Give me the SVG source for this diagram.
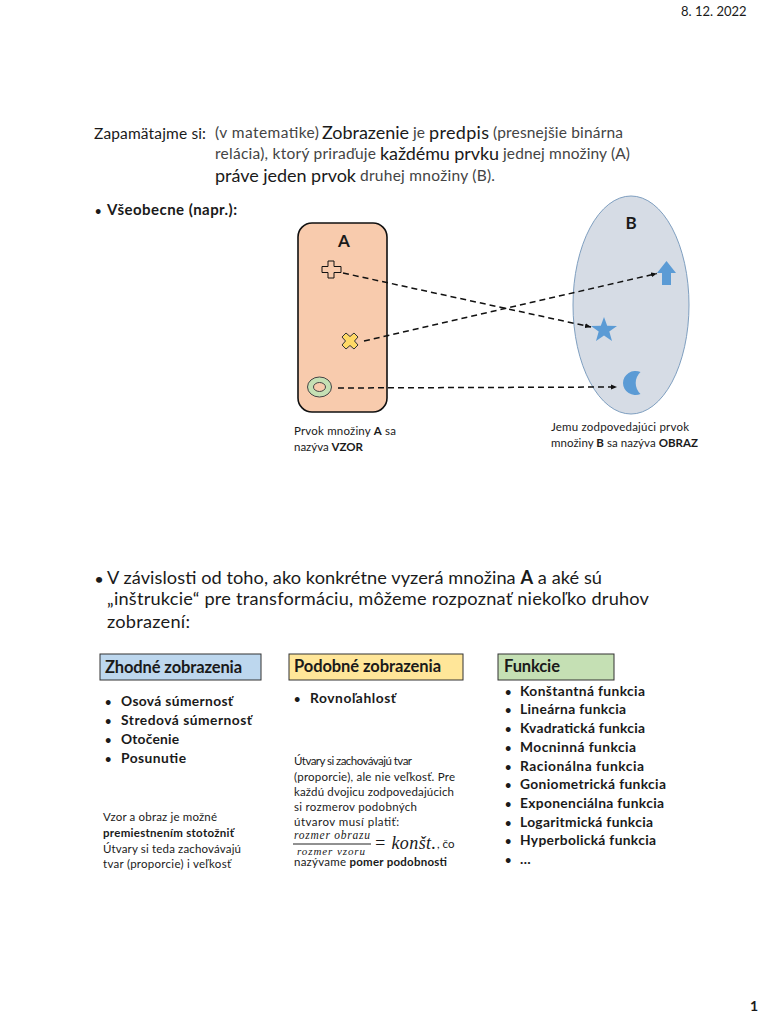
<svg xmlns="http://www.w3.org/2000/svg" width="768" height="1024" viewBox="0 0 768 1024">
<style>
text{font-family:Lato,"Open Sans","Liberation Sans",sans-serif;fill:#1a1a1a}
.b{font-weight:700}
.l{fill:#444}
.s{font-size:11.500px}
.m{font-size:13.800px;font-weight:700}
.d{font-size:11px;font-weight:700}
.h{font-size:16.500px;font-weight:700}
.big{font-size:18.200px}
.f{font-family:"Liberation Serif",serif;font-style:italic}
.c{fill:none;stroke:#111;stroke-width:1.500;stroke-dasharray:6 4}
</style>
<defs><marker id="ah" markerUnits="userSpaceOnUse" markerWidth="7" markerHeight="6" refX="6" refY="3" orient="auto"><path d="M0 .5L6 3L0 5.500Z" fill="#111"/></marker></defs>
<rect width="768" height="1024" fill="#fff"/>
<text x="681" y="16" font-size="13">8. 12. 2022</text>
<text x="750" y="1011" font-size="14" class="b">1</text>
<g id="intro">
<text x="94" y="139" font-size="15.500" textLength="112">Zapamätajme si:</text>
<text x="215" y="138" font-size="15.500" class="l" textLength="104">(v matematike)</text>
<text x="322" y="139" font-size="18" textLength="87">Zobrazenie</text>
<text x="413" y="138" font-size="15.500" class="l">je</text>
<text x="429" y="139" font-size="18" textLength="60">predpis</text>
<text x="493" y="138" font-size="15.500" class="l" textLength="130">(presnejšie binárna</text>
<text x="215" y="159" font-size="15.500" class="l" textLength="161">relácia), ktorý priraďuje</text>
<text x="380" y="160" font-size="18" textLength="119">každému prvku</text>
<text x="503" y="159" font-size="15.500" class="l" textLength="127">jednej množiny (A)</text>
<text x="215" y="182" font-size="18" textLength="141">práve jeden prvok</text>
<text x="360" y="181" font-size="15.500" class="l" textLength="135">druhej množiny (B).</text>
<text x="95" y="215" class="d">•</text>
<text x="107" y="215" font-size="15" class="b" textLength="130">Všeobecne (napr.):</text>
</g>
<g id="setA"><rect x="298" y="223" width="89" height="189" rx="14" fill="#f8cbad" stroke="#111" stroke-width="1.600"/><text x="344" y="247" font-size="17" class="b" text-anchor="middle">A</text></g>
<g id="setB"><ellipse cx="631" cy="305" rx="58" ry="109" fill="#d6dce5" stroke="#7f9fc0"/><text x="631" y="229" font-size="17" class="b" text-anchor="middle">B</text></g>
<g id="plus"><path d="M328 261h6v5.500h7v6h-7v5.500h-6v-5.500h-6v-6h6z" fill="#f8cbad" stroke="#111"/></g>
<g id="cross"><path d="M346 333l4 3.500 4-3.500 4 4-3.500 4 3.500 4-4 4-4-3.500-4 3.500-4-4 3.500-4-3.500-4z" fill="#ffd966" stroke="#333"/></g>
<g id="donut"><ellipse cx="319.500" cy="387" rx="12" ry="10" fill="#c5e0b4" stroke="#444"/><ellipse cx="319.500" cy="387" rx="6" ry="4.500" fill="#f8cbad" stroke="#444"/></g>
<g id="arrowShape"><path d="M666.500 261l9.500 12h-5v12h-9v-12h-5z" fill="#5b9bd5"/></g>
<g id="star"><path d="M604 317l3.200 8.700 9.800.3-7.700 5.600 2.700 9.400-8-5.400-8 5.400 2.700-9.400-7.700-5.600 9.800-.3z" fill="#5b9bd5"/></g>
<g id="moon"><path d="M640.500 372a12.500 12 0 1 0 0 22a15 15 0 0 1 0-22z" fill="#5b9bd5"/></g>
<g id="connectors">
<path class="c" d="M343 273L591 327" marker-end="url(#ah)"/>
<path class="c" d="M364 341L657 273.500" marker-end="url(#ah)"/>
<path class="c" d="M338 388L617 387" marker-end="url(#ah)"/>
</g>
<g id="captions">
<text x="294" y="435" class="s" textLength="102">Prvok množiny <tspan class="b">A</tspan> sa</text>
<text x="294" y="451" class="s" textLength="69">nazýva <tspan class="b">VZOR</tspan></text>
<text x="551" y="431" class="s" textLength="138">Jemu zodpovedajúci prvok</text>
<text x="551" y="447" class="s" textLength="147">množiny <tspan class="b">B</tspan> sa nazýva <tspan class="b">OBRAZ</tspan></text>
</g>
<g id="para">
<text x="95" y="584" font-size="14" class="b">•</text>
<text x="107" y="584" class="big" textLength="495">V závislosti od toho, ako konkrétne vyzerá množina <tspan class="b">A</tspan> a aké sú</text>
<text x="107" y="605" class="big" textLength="542">„inštrukcie“ pre transformáciu, môžeme rozpoznať niekoľko druhov</text>
<text x="107" y="628" class="big" textLength="83">zobrazení:</text>
</g>
<g id="zhodne">
<rect x="100" y="654" width="161" height="26" fill="#bdd7ee" stroke="#333"/>
<text x="105" y="673" class="h" textLength="137">Zhodné zobrazenia</text>
<text x="105" y="706" class="d">•</text><text x="121" y="706" class="m" textLength="112">Osová súmernosť</text>
<text x="105" y="725" class="d">•</text><text x="121" y="725" class="m" textLength="131">Stredová súmernosť</text>
<text x="105" y="744" class="d">•</text><text x="121" y="744" class="m" textLength="58">Otočenie</text>
<text x="105" y="763" class="d">•</text><text x="121" y="763" class="m" textLength="65">Posunutie</text>
<text x="103" y="821" class="s" textLength="114">Vzor a obraz je možné</text>
<text x="103" y="837" class="s b" textLength="131">premiestnením stotožniť</text>
<text x="103" y="853" class="s" textLength="138">Útvary si teda zachovávajú</text>
<text x="103" y="868" class="s" textLength="128">tvar (proporcie) i veľkosť</text>
</g>
<g id="podobne">
<rect x="289" y="654" width="174" height="26" fill="#ffe699" stroke="#333"/>
<text x="294" y="672" class="h" textLength="147">Podobné zobrazenia</text>
<text x="294" y="703" class="d">•</text><text x="310" y="703" class="m" textLength="86">Rovnoľahlosť</text>
<text x="294" y="765" class="s" textLength="118">Útvary si zachovávajú tvar</text>
<text x="294" y="781" class="s" textLength="161">(proporcie), ale nie veľkosť. Pre</text>
<text x="294" y="796" class="s" textLength="160">každú dvojicu zodpovedajúcich</text>
<text x="294" y="811" class="s" textLength="123">si rozmerov podobných</text>
<text x="294" y="826" class="s" textLength="105">útvarov musí platiť:</text>
<text x="294" y="839" font-size="11.500" class="f" textLength="76">rozmer obrazu</text>
<path d="M293 844H371" stroke="#222" fill="none"/>
<text x="297" y="855" font-size="11" class="f" textLength="68">rozmer vzoru</text>
<text x="374" y="849" font-size="18" class="f" textLength="62">= konšt.</text>
<text x="437" y="848" class="s">, čo</text>
<text x="294" y="866" class="s" textLength="153">nazývame <tspan class="b">pomer podobnosti</tspan></text>
</g>
<g id="funkcie">
<rect x="498" y="654" width="116" height="26" fill="#c5e0b4" stroke="#333"/>
<text x="504" y="672" class="h" textLength="56">Funkcie</text>
<text x="505" y="696" class="d">•</text><text x="520" y="696" class="m" textLength="125">Konštantná funkcia</text>
<text x="505" y="714" class="d">•</text><text x="520" y="714" class="m" textLength="106">Lineárna funkcia</text>
<text x="505" y="733" class="d">•</text><text x="520" y="733" class="m" textLength="125">Kvadratická funkcia</text>
<text x="505" y="752" class="d">•</text><text x="520" y="752" class="m" textLength="116">Mocninná funkcia</text>
<text x="505" y="771" class="d">•</text><text x="520" y="771" class="m" textLength="124">Racionálna funkcia</text>
<text x="505" y="789" class="d">•</text><text x="520" y="789" class="m" textLength="146">Goniometrická funkcia</text>
<text x="505" y="808" class="d">•</text><text x="520" y="808" class="m" textLength="144">Exponenciálna funkcia</text>
<text x="505" y="827" class="d">•</text><text x="520" y="827" class="m" textLength="133">Logaritmická funkcia</text>
<text x="505" y="845" class="d">•</text><text x="520" y="845" class="m" textLength="136">Hyperbolická funkcia</text>
<text x="505" y="864" class="d">•</text><text x="520" y="864" class="m">…</text>
</g>
</svg>
